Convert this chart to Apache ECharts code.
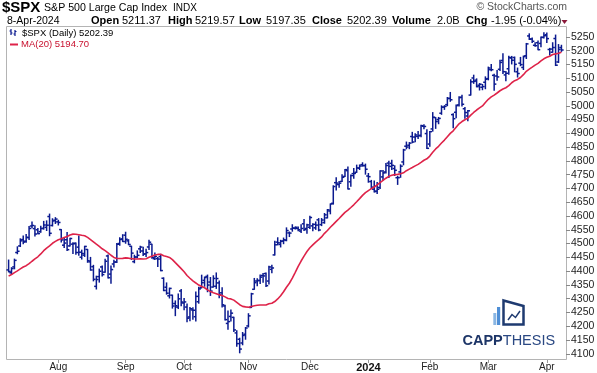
<!DOCTYPE html>
<html><head><meta charset="utf-8">
<script src="https://cdn.jsdelivr.net/npm/echarts@6/dist/echarts.min.js"></script>
<style>html,body{margin:0;padding:0;background:#fff}#c{width:597px;height:373px}</style>
</head><body><div id="c"></div>
<script>
const dates = [
'2023-07-07','2023-07-10','2023-07-11','2023-07-12','2023-07-13','2023-07-14','2023-07-17','2023-07-18','2023-07-19','2023-07-20','2023-07-21','2023-07-24','2023-07-25','2023-07-26','2023-07-27','2023-07-28','2023-07-31',
'2023-08-01','2023-08-02','2023-08-03','2023-08-04','2023-08-07','2023-08-08','2023-08-09','2023-08-10','2023-08-11','2023-08-14','2023-08-15','2023-08-16','2023-08-17','2023-08-18','2023-08-21','2023-08-22','2023-08-23','2023-08-24','2023-08-25','2023-08-28','2023-08-29','2023-08-30','2023-08-31',
'2023-09-01','2023-09-05','2023-09-06','2023-09-07','2023-09-08','2023-09-11','2023-09-12','2023-09-13','2023-09-14','2023-09-15','2023-09-18','2023-09-19','2023-09-20','2023-09-21','2023-09-22','2023-09-25','2023-09-26','2023-09-27','2023-09-28','2023-09-29',
'2023-10-02','2023-10-03','2023-10-04','2023-10-05','2023-10-06','2023-10-09','2023-10-10','2023-10-11','2023-10-12','2023-10-13','2023-10-16','2023-10-17','2023-10-18','2023-10-19','2023-10-20','2023-10-23','2023-10-24','2023-10-25','2023-10-26','2023-10-27','2023-10-30','2023-10-31',
'2023-11-01','2023-11-02','2023-11-03','2023-11-06','2023-11-07','2023-11-08','2023-11-09','2023-11-10','2023-11-13','2023-11-14','2023-11-15','2023-11-16','2023-11-17','2023-11-20','2023-11-21','2023-11-22','2023-11-24','2023-11-27','2023-11-28','2023-11-29','2023-11-30',
'2023-12-01','2023-12-04','2023-12-05','2023-12-06','2023-12-07','2023-12-08','2023-12-11','2023-12-12','2023-12-13','2023-12-14','2023-12-15','2023-12-18','2023-12-19','2023-12-20','2023-12-21','2023-12-22','2023-12-26','2023-12-27','2023-12-28','2023-12-29',
'2024-01-02','2024-01-03','2024-01-04','2024-01-05','2024-01-08','2024-01-09','2024-01-10','2024-01-11','2024-01-12','2024-01-16','2024-01-17','2024-01-18','2024-01-19','2024-01-22','2024-01-23','2024-01-24','2024-01-25','2024-01-26','2024-01-29','2024-01-30','2024-01-31',
'2024-02-01','2024-02-02','2024-02-05','2024-02-06','2024-02-07','2024-02-08','2024-02-09','2024-02-12','2024-02-13','2024-02-14','2024-02-15','2024-02-16','2024-02-20','2024-02-21','2024-02-22','2024-02-23','2024-02-26','2024-02-27','2024-02-28','2024-02-29',
'2024-03-01','2024-03-04','2024-03-05','2024-03-06','2024-03-07','2024-03-08','2024-03-11','2024-03-12','2024-03-13','2024-03-14','2024-03-15','2024-03-18','2024-03-19','2024-03-20','2024-03-21','2024-03-22','2024-03-25','2024-03-26','2024-03-27','2024-03-28',
'2024-04-01','2024-04-02','2024-04-03','2024-04-04','2024-04-05','2024-04-08'
];
const opens = [
4404.54,4394.23,4415.55,4467.69,4491.50,4514.61,4508.86,4521.78,4563.87,4554.38,4550.16,4543.39,4555.19,4558.96,4598.26,4565.75,4584.82,
4578.83,4550.93,4494.27,4513.96,4491.58,4498.03,4501.57,4487.16,4450.69,4458.13,4478.87,4433.79,4416.32,4344.88,4380.28,4415.33,4396.44,4455.16,4389.38,4426.03,4432.75,4500.34,4517.01,
4530.60,4510.06,4490.35,4434.55,4451.30,4480.98,4473.27,4462.65,4487.78,4497.98,4445.13,4445.41,4452.81,4374.36,4341.74,4310.62,4312.88,4282.63,4269.65,4328.18,
4284.52,4269.75,4233.83,4259.31,4234.79,4289.02,4339.75,4366.59,4380.94,4360.49,4342.37,4345.23,4357.35,4321.36,4273.85,4210.40,4235.79,4232.42,4175.99,4152.93,4139.39,4171.33,
4201.27,4268.26,4334.23,4364.27,4366.21,4384.37,4391.41,4364.15,4406.66,4458.97,4505.30,4497.08,4509.55,4511.70,4538.77,4553.04,4555.84,4554.86,4545.55,4571.84,4554.87,
4559.43,4564.37,4557.25,4586.23,4568.84,4576.20,4593.39,4618.30,4646.20,4721.04,4714.23,4725.58,4743.72,4764.73,4724.29,4753.92,4758.86,4773.45,4786.44,4782.88,
4745.20,4725.07,4697.42,4690.57,4703.70,4741.93,4759.94,4792.13,4791.18,4772.35,4739.13,4760.10,4796.28,4853.42,4856.80,4888.56,4886.66,4888.91,4892.95,4925.89,4899.19,
4861.11,4916.06,4957.19,4950.16,4973.05,4995.16,5004.17,5026.83,4967.94,4976.44,5003.14,5031.13,4989.32,4963.03,5038.83,5100.92,5093.00,5074.60,5067.20,5085.36,
5098.51,5130.99,5110.52,5108.03,5132.38,5164.46,5111.96,5134.30,5173.49,5175.14,5123.31,5154.77,5139.09,5181.69,5253.43,5242.48,5219.52,5228.85,5226.31,5248.03,
5257.97,5204.29,5194.37,5244.05,5158.95,5211.37
];
const highs = [
4440.39,4412.60,4443.64,4488.34,4517.38,4527.76,4532.85,4562.30,4578.43,4564.74,4555.00,4563.41,4580.62,4582.47,4607.07,4590.16,4594.22,
4584.62,4550.93,4519.49,4540.34,4519.84,4503.31,4502.44,4527.37,4476.23,4490.33,4478.87,4449.95,4421.17,4381.82,4407.55,4418.59,4443.18,4458.30,4418.46,4439.56,4500.14,4521.65,4532.26,
4541.25,4514.29,4490.35,4457.81,4473.53,4490.77,4487.11,4479.39,4511.99,4497.98,4466.36,4449.85,4461.03,4375.70,4357.40,4338.51,4313.01,4292.07,4317.27,4333.15,
4300.58,4281.15,4268.50,4267.13,4324.10,4341.73,4385.46,4378.64,4385.85,4377.10,4383.33,4393.57,4364.20,4339.54,4276.56,4255.84,4259.38,4232.42,4183.60,4156.70,4177.47,4195.55,
4245.64,4319.72,4373.62,4372.21,4386.26,4391.20,4393.40,4418.03,4421.76,4508.67,4521.17,4511.99,4520.12,4557.11,4542.14,4568.43,4560.31,4560.52,4568.14,4587.64,4569.89,
4599.39,4572.37,4578.56,4590.74,4590.92,4609.23,4623.70,4643.93,4709.69,4738.57,4725.53,4749.52,4768.69,4778.01,4748.71,4772.94,4784.72,4785.39,4793.30,4788.43,
4754.33,4729.29,4726.78,4721.49,4764.54,4765.47,4790.80,4798.50,4802.40,4782.34,4744.23,4785.79,4842.07,4868.41,4866.48,4903.68,4898.15,4906.69,4929.31,4931.09,4913.04,
4906.97,4975.29,4957.19,4957.77,4999.89,5000.40,5030.06,5048.39,4971.30,5002.52,5032.72,5038.70,4993.71,4983.21,5094.39,5111.06,5097.66,5080.69,5077.37,5104.99,
5140.33,5149.67,5114.54,5127.97,5165.62,5189.26,5124.66,5179.87,5179.14,5176.85,5136.86,5175.60,5180.31,5226.19,5261.10,5246.09,5229.09,5235.16,5249.26,5264.85,
5263.95,5208.34,5228.75,5256.59,5222.18,5219.57
];
const lows = [
4397.40,4389.92,4408.46,4463.23,4489.36,4499.56,4504.90,4514.59,4557.48,4527.56,4535.79,4541.29,4552.42,4547.58,4528.56,4564.01,4573.14,
4567.53,4505.75,4485.54,4474.55,4491.15,4464.39,4461.33,4457.92,4443.98,4453.44,4432.19,4403.55,4364.83,4335.31,4360.30,4382.77,4396.44,4375.55,4356.29,4414.98,4431.68,4493.59,4507.39,
4501.35,4496.01,4442.38,4430.46,4448.38,4467.89,4456.83,4453.52,4478.69,4447.21,4442.11,4416.61,4401.38,4329.17,4316.49,4302.70,4265.98,4238.63,4264.38,4274.86,
4260.21,4216.45,4220.48,4225.91,4219.55,4283.79,4339.64,4345.34,4325.43,4311.97,4342.37,4337.54,4303.84,4269.69,4223.03,4189.22,4219.43,4181.42,4127.90,4103.78,4132.94,4153.12,
4197.74,4268.26,4334.23,4347.53,4355.41,4359.76,4343.94,4353.34,4393.82,4458.97,4495.31,4487.83,4499.66,4510.36,4525.51,4545.05,4552.80,4546.32,4540.51,4547.15,4537.24,
4554.71,4546.72,4551.68,4546.50,4565.22,4574.06,4593.39,4608.09,4643.23,4694.34,4704.69,4725.58,4743.72,4697.82,4708.35,4736.77,4758.45,4768.90,4780.98,4751.99,
4722.67,4699.71,4687.53,4682.11,4699.82,4730.35,4756.20,4739.58,4768.98,4747.12,4714.82,4740.57,4785.87,4844.05,4844.37,4865.94,4869.34,4881.47,4887.40,4916.27,4845.15,
4853.52,4907.99,4918.09,4934.88,4969.05,4987.09,5000.34,5016.27,4920.31,4956.45,4999.44,4999.52,4955.02,4946.00,5038.83,5081.46,5068.91,5057.29,5058.35,5061.89,
5094.16,5127.18,5056.82,5092.22,5128.21,5117.50,5091.14,5114.48,5151.88,5123.30,5104.35,5145.47,5131.59,5171.55,5240.66,5229.87,5216.09,5203.42,5213.92,5245.82,
5229.20,5184.05,5194.37,5146.06,5157.21,5197.35
];
const closes = [
4398.95,4409.53,4439.26,4472.16,4510.04,4505.42,4522.79,4554.98,4565.72,4534.87,4536.34,4554.64,4567.46,4566.75,4537.41,4582.23,4588.96,
4576.73,4513.39,4501.89,4478.03,4518.44,4499.38,4467.71,4468.83,4464.05,4489.72,4437.86,4404.33,4370.36,4369.71,4399.77,4387.55,4436.01,4376.31,4405.71,4433.31,4497.63,4514.87,4507.66,
4515.77,4496.83,4465.48,4451.14,4457.49,4487.46,4461.90,4467.44,4505.10,4450.32,4453.53,4443.95,4402.20,4330.00,4320.06,4337.44,4273.53,4274.51,4299.70,4288.05,
4288.39,4229.45,4263.75,4258.19,4308.50,4335.66,4358.24,4376.95,4349.61,4327.78,4373.63,4373.20,4314.60,4278.00,4224.16,4217.04,4247.68,4186.77,4137.23,4117.37,4166.82,4193.80,
4237.86,4317.78,4358.34,4365.98,4378.38,4382.78,4347.35,4415.24,4411.55,4495.70,4502.88,4508.24,4514.02,4547.38,4538.19,4556.62,4559.34,4550.43,4554.89,4550.58,4567.80,
4594.63,4569.78,4567.18,4549.34,4585.59,4604.37,4622.44,4643.70,4707.09,4719.55,4719.19,4740.56,4768.37,4698.35,4746.75,4754.63,4774.75,4781.58,4783.35,4769.83,
4742.83,4704.81,4688.68,4697.24,4763.54,4756.50,4783.45,4780.24,4783.83,4765.98,4739.21,4780.94,4839.81,4850.43,4864.60,4868.55,4894.16,4890.97,4927.93,4924.97,4845.65,
4906.19,4958.61,4942.81,4954.23,4995.06,4997.91,5026.61,5021.84,4953.17,5000.62,5029.73,5005.57,4975.51,4981.80,5087.03,5088.80,5069.53,5078.18,5069.76,5096.27,
5137.08,5130.95,5078.65,5104.76,5157.36,5123.69,5117.94,5175.27,5165.31,5150.48,5117.09,5149.42,5178.51,5224.62,5241.53,5234.18,5218.19,5203.58,5248.49,5254.35,
5243.77,5205.81,5211.49,5147.21,5204.34,5202.39
];
// closes of the 19 sessions before the first visible bar (needed for MA(20))
const warmupCloses = [4293.93,4298.86,4338.93,4369.01,4372.59,4425.84,4409.59,4388.71,4365.69,4381.89,4348.33,4328.82,4378.41,4376.86,4396.44,4450.38,4455.59,4446.82,4411.59];
const yTicks = [4100,4150,4200,4250,4300,4350,4400,4450,4500,4550,4600,4650,4700,4750,4800,4850,4900,4950,5000,5050,5100,5150,5200,5250];
const monthNames = ['Jan','Feb','Mar','Apr','May','Jun','Jul','Aug','Sep','Oct','Nov','Dec'];
const volumeText = '2.0B';
const maPeriod = 20;

const allCloses = warmupCloses.concat(closes);
const ma = closes.map((c, i) => {
  let s = 0;
  for (let k = i; k < i + maPeriod; k++) s += allCloses[k];
  return +(s / maPeriod).toFixed(2);
});
const n = closes.length;
const ohlc = dates.map((d, i) => [i, opens[i], highs[i], lows[i], closes[i]]);
const chg = closes[n-1] - closes[n-2];
const chgPct = chg / closes[n-2] * 100;
const lastDate = new Date(dates[n-1] + 'T00:00:00');
const dateText = lastDate.getDate() + '-' + monthNames[lastDate.getMonth()] + '-' + lastDate.getFullYear();

function isMonthStart(index) {
  return index > 0 && dates[index].slice(5,7) !== dates[index-1].slice(5,7);
}
const F = '"Liberation Sans", Arial, sans-serif';
function txt(x, y, text, font, fill, align) {
  return {type:'text', x:x, y:y, silent:true, style:{text:text, font:font, fill:fill||'#000', textAlign:align||'left', textVerticalAlign:'middle', verticalAlign:'middle'}};
}

const chart = echarts.init(document.getElementById('c'), null, {renderer:'canvas'});
chart.setOption({
  animation:false,
  backgroundColor:'#fff',
  grid:{left:7.14, right:34.1, top:26, bottom:13, outerBoundsMode:'none', containLabel:false},
  xAxis:{
    type:'category', data:dates, boundaryGap:true,
    axisLine:{show:false},
    axisTick:{show:true, alignWithLabel:true, length:3, interval:(i)=>isMonthStart(i), lineStyle:{color:'#999'}},
    axisLabel:{
      interval:(i)=>isMonthStart(i), margin:2, fontSize:10, color:'#222', fontFamily:F,
      formatter:(v)=>{ const m = +v.slice(5,7); return m === 1 ? '{y|' + v.slice(0,4) + '}' : monthNames[m-1]; },
      rich:{y:{fontWeight:'bold', fontSize:11, color:'#111', fontFamily:F}}
    },
    splitLine:{show:false}
  },
  yAxis:{
    type:'value', position:'right', min:4077.7, max:5289.5, offset:3.1, scale:true,
    axisLine:{show:false},
    axisTick:{show:true, length:4, customValues:yTicks, lineStyle:{color:'#888'}},
    axisLabel:{customValues:yTicks, margin:5, fontSize:10.5, color:'#222', fontFamily:F, formatter:(v)=>String(Math.round(v))},
    splitLine:{show:false}
  },
  series:[
    {
      type:'custom', name:'$SPX', data:ohlc, encode:{x:0, y:[1,2,3,4]}, z:2,
      renderItem:function(params, api){
        const i = api.value(0);
        const pO = api.coord([i, api.value(1)]);
        const pH = api.coord([i, api.value(2)]);
        const pL = api.coord([i, api.value(3)]);
        const pC = api.coord([i, api.value(4)]);
        const x = pH[0];
        const st = {stroke:'#0b1a8f', lineWidth:1.5};
        return {type:'group', children:[
          {type:'line', shape:{x1:x, y1:pH[1]-0.5, x2:x, y2:pL[1]+0.5}, style:st},
          {type:'line', shape:{x1:x-2.2, y1:pO[1], x2:x, y2:pO[1]}, style:st},
          {type:'line', shape:{x1:x, y1:pC[1], x2:x+2.2, y2:pC[1]}, style:st}
        ]};
      }
    },
    {
      type:'line', name:'MA(20)', data:ma, showSymbol:false, symbol:'none', z:3,
      lineStyle:{color:'#de2349', width:1.6}, smooth:false
    }
  ],
  graphic:[
    {type:'rect', silent:true, z:0, shape:{x:6.5, y:26.5, width:560, height:333}, style:{fill:'none', stroke:'#b4b4b4', lineWidth:1}},
    txt(2, 8, '$SPX', 'bold 15px ' + F),
    txt(44, 8, 'S&P 500 Large Cap Index', '10.6px ' + F),
    txt(173, 8, 'INDX', '10px ' + F),
    txt(567, 7.5, '\u00A9 StockCharts.com', '10.5px ' + F, '#555', 'right'),
    txt(7, 21, dateText, '10.5px ' + F),
    txt(91, 21, 'Open', 'bold 11px ' + F),
    txt(122, 21, opens[n-1].toFixed(2), '11px ' + F),
    txt(168, 21, 'High', 'bold 11px ' + F),
    txt(195, 21, highs[n-1].toFixed(2), '11px ' + F),
    txt(239, 21, 'Low', 'bold 11px ' + F),
    txt(266, 21, lows[n-1].toFixed(2), '11px ' + F),
    txt(312, 21, 'Close', 'bold 11px ' + F),
    txt(347, 21, closes[n-1].toFixed(2), '11px ' + F),
    txt(392, 21, 'Volume', 'bold 11px ' + F),
    txt(437, 21, volumeText, '11px ' + F),
    txt(466, 21, 'Chg', 'bold 11px ' + F),
    txt(491, 21, chg.toFixed(2) + ' (' + chgPct.toFixed(2) + '%)', '11px ' + F),
    {type:'polygon', silent:true, shape:{points:[[561.5,20],[567.5,20],[564.5,24]]}, style:{fill:'#8b1a3c'}},
    // legend
    {type:'polyline', silent:true, shape:{points:[[11,29],[11,35]]}, style:{stroke:'#0b1a8f', lineWidth:1.2, fill:'none'}},
    {type:'polyline', silent:true, shape:{points:[[9.5,31],[11,31]]}, style:{stroke:'#0b1a8f', lineWidth:1.2, fill:'none'}},
    {type:'polyline', silent:true, shape:{points:[[11,33],[12.5,33]]}, style:{stroke:'#0b1a8f', lineWidth:1.2, fill:'none'}},
    {type:'polyline', silent:true, shape:{points:[[15,30],[15,36]]}, style:{stroke:'#0b1a8f', lineWidth:1.2, fill:'none'}},
    {type:'polyline', silent:true, shape:{points:[[13.5,34],[15,34]]}, style:{stroke:'#0b1a8f', lineWidth:1.2, fill:'none'}},
    {type:'polyline', silent:true, shape:{points:[[15,31.5],[16.5,31.5]]}, style:{stroke:'#0b1a8f', lineWidth:1.2, fill:'none'}},
    txt(22, 33.5, '$SPX (Daily) ' + closes[n-1].toFixed(2), '9.5px ' + F, '#000'),
    {type:'polyline', silent:true, shape:{points:[[10,44.5],[18,44.5]]}, style:{stroke:'#de2349', lineWidth:2, fill:'none'}},
    txt(21, 44.5, 'MA(' + maPeriod + ') ' + ma[n-1].toFixed(2), '9.5px ' + F, '#c8102e'),
    // logo
    {type:'rect', silent:true, shape:{x:493.3, y:313, width:3, height:12}, style:{fill:'#8ab6e3'}},
    {type:'rect', silent:true, shape:{x:497, y:307, width:3.2, height:18}, style:{fill:'#4f8fd6'}},
    {type:'polygon', silent:true, shape:{points:[[503.5,300.5],[523.5,306],[523.5,324.5],[503.5,324.5]]}, style:{fill:'none', stroke:'#1e3a70', lineWidth:2.5}},
    {type:'polyline', silent:true, shape:{points:[[508,320],[512,314.5],[515.5,317.5],[520,311]]}, style:{fill:'none', stroke:'#1e3a70', lineWidth:1.5}},
    {type:'text', x:462.5, y:340.5, silent:true, style:{text:'{a|CAPP}{b|THESIS}', textVerticalAlign:'middle', verticalAlign:'middle',
      rich:{a:{font:'bold 14.5px ' + F, fill:'#1d3567'}, b:{font:'14.5px ' + F, fill:'#2a4883'}}}}
  ]
});
</script>
</body></html>
